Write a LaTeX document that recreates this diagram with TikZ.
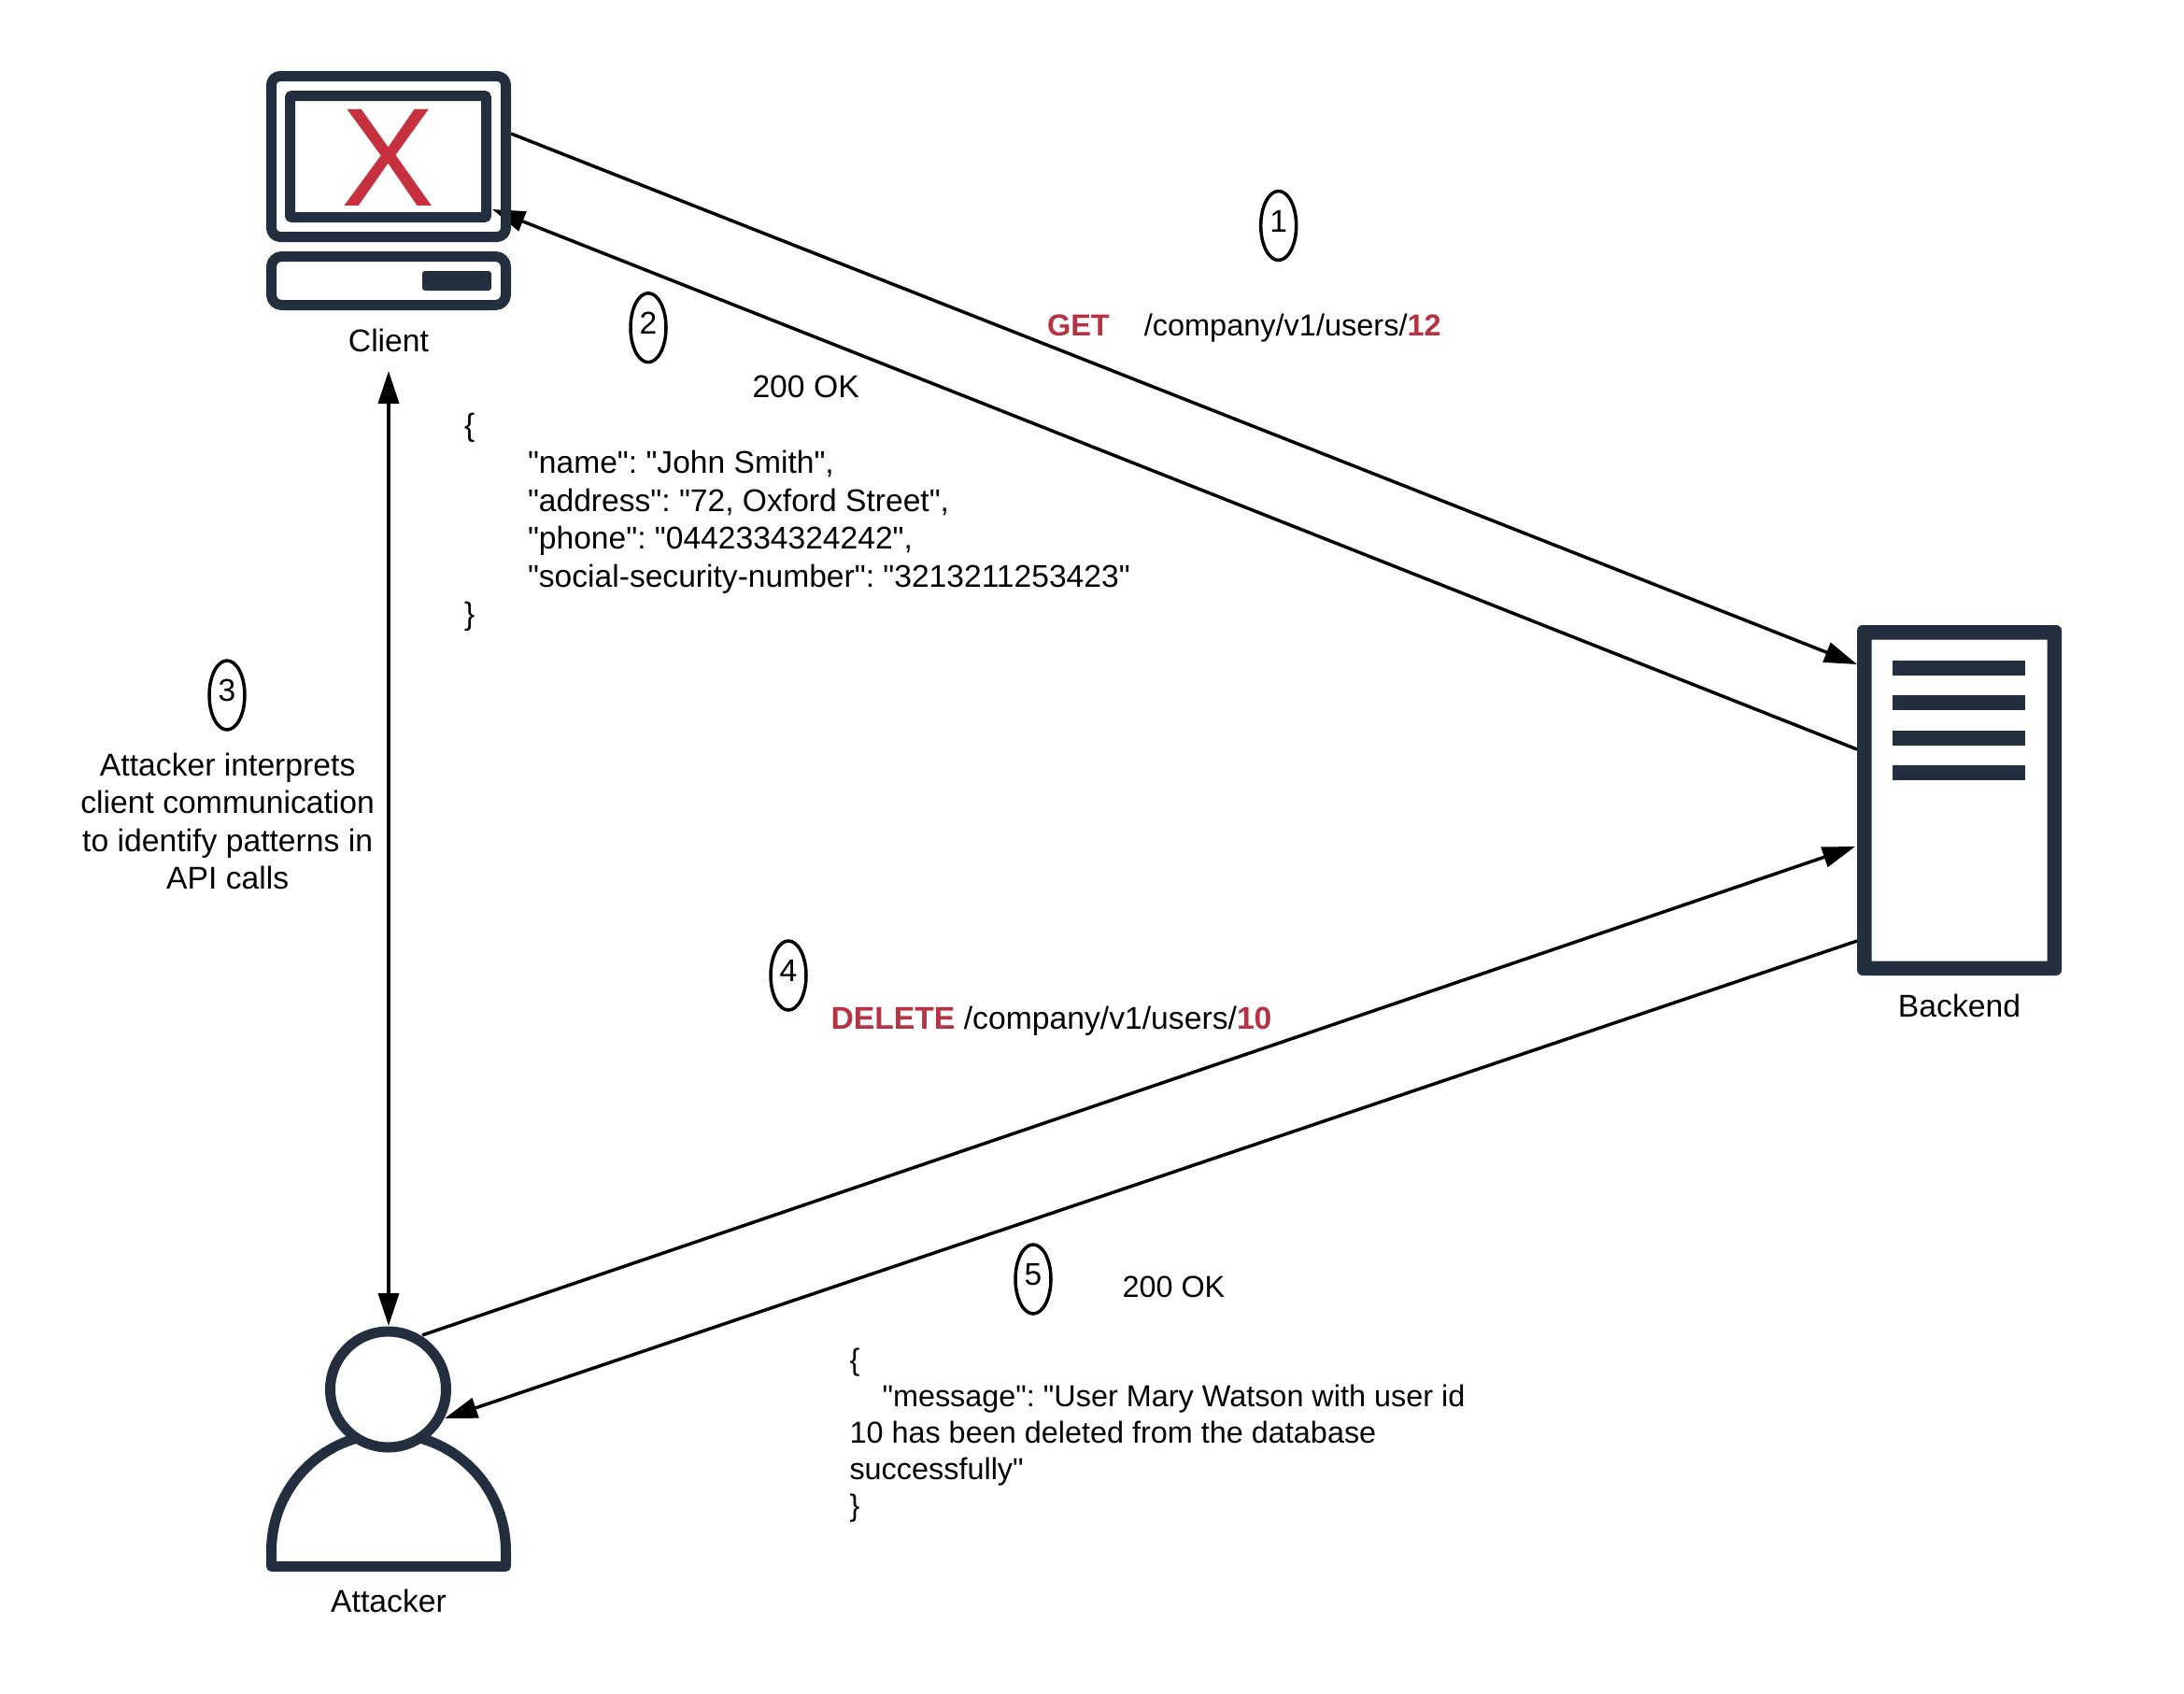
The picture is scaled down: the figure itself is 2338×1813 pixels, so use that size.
\documentclass[tikz,border=0pt]{standalone}
\usepackage{fontspec}
\setmainfont{Liberation Sans}[Ligatures=TeXOff]
\usetikzlibrary{arrows.meta,shapes.geometric}
\definecolor{navy}{HTML}{232F3E}
\definecolor{xred}{HTML}{C7313F}
\definecolor{txtred}{HTML}{B73343}
\frenchspacing
\tikzset{
  icon/.style={draw=none,rectangle,inner sep=0pt,outer sep=0pt},
  frame/.style={draw=navy,line join=round},
  link/.style={draw=black,line width=3.5pt},
  arr/.style={link,-{Triangle[length=35pt,width=22pt]}},
  num/.style={draw=black,line width=3.5pt,ellipse,inner sep=0pt,outer sep=0pt,minimum width=38pt,minimum height=74pt,
    text height=23pt,text depth=10pt,font=\fontsize{33.6}{40}\selectfont},
  lbl/.style={inner sep=0pt,outer sep=0pt,font=\fontsize{33.7}{40.5}\selectfont},
  msg/.style={inner sep=0pt,outer sep=0pt,font=\fontsize{32.4}{39}\selectfont},
}
\begin{document}
\begin{tikzpicture}[x=1pt,y=-1pt]
\path[use as bounding box,fill=white] (0,0) rectangle (2338,1813);
% icon placeholders
\node[icon,minimum width=262pt,minimum height=256pt] (client) at (416,204) {};
\node[icon,minimum width=219pt,minimum height=375pt] (backend) at (2097.5,856.5) {};
\node[icon,minimum width=262pt,minimum height=263pt] (attacker) at (416,1550.5) {};
% connectors
\draw[arr] ([yshift=61pt]client.east) -- ([yshift=145.5pt]backend.west);
\draw[arr] ([yshift=54.5pt]backend.west) -- ([shift={(-20pt,-20pt)}]client.east);
\draw[link,{Triangle[length=35pt,width=22pt]}-{Triangle[length=35pt,width=22pt]}] ([yshift=-65pt]client.south) -- (attacker.north);
\draw[arr] ([shift={(36pt,-10pt)}]attacker.north) -- ([shift={(-2pt,-49.5pt)}]backend.west);
\draw[arr] ([yshift=-150.5pt]backend.west) -- ([shift={(60pt,-99pt)}]attacker.north);
% client icon
\draw[frame,line width=11pt,rounded corners=9.5pt] (290.5,81.5) rectangle (541.5,253.5);
\draw[frame,line width=11pt,rounded corners=1pt] (310.5,102.5) rectangle (520.5,232.5);
\draw[frame,line width=11pt,rounded corners=11pt] (290.5,274.5) rectangle (541.5,326.5);
\fill[navy,rounded corners=3pt] (452,290) rectangle (526,311);
\node[lbl,anchor=base,text=xred,font=\fontsize{150}{150}\selectfont] (xmark) at (415.8,220.5) {X};
% backend icon
\fill[navy,even odd rule] [rounded corners=6pt] (1988,669) rectangle (2207,1044) [sharp corners] (2003.5,684.5) rectangle (2191.5,1028.5);
\fill[navy] (2026,707) rectangle (2168,723);
\fill[navy] (2026,744) rectangle (2168,760);
\fill[navy] (2026,782) rectangle (2168,798);
\fill[navy] (2026,819) rectangle (2168,835);
% attacker icon
\draw[frame,line width=11pt] (290.5,1676.5) -- (290.5,1660) arc[start angle=180,end angle=0,x radius=125.5pt,y radius=125.5pt] -- (541.5,1676.5) -- cycle;
\draw[frame,line width=11pt,fill=white] (415.5,1487) circle[radius=62pt];
% labels
\node[lbl,anchor=base] (clientlabel) at (416,376) {Client};
\node[lbl,anchor=base] (backendlabel) at (2097.5,1088) {Backend};
\node[lbl,anchor=base] (attackerlabel) at (416,1725.7) {Attacker};
% step markers
\node[num] (n1) at (1368.7,241.5) {1};
\node[num] (n2) at (694,350.7) {2};
\node[num] (n3) at (243,744) {3};
\node[num] (n4) at (844,1044) {4};
\node[num] (n5) at (1106,1369) {5};
% texts
\node[lbl,anchor=base west,font=\fontsize{32.5}{40.5}\selectfont] (get) at (1121,359) {\textcolor{txtred}{\bfseries GET}\hspace{37pt}/company/v1/users/\textcolor{txtred}{\bfseries 12}};
\node[lbl,anchor=base west] (ok1) at (805.5,425) {200 OK};
\node[lbl,anchor=base west,align=left,font=\fontsize{33.6}{40.5}\selectfont] (json1) at (497,668.5) {\{\\\hspace*{68pt}"name": "John Smith",\\\hspace*{68pt}"address": "72, Oxford Street",\\\hspace*{68pt}"phone": "0442334324242",\\\hspace*{68pt}"social-security-number": "3213211253423"\\\}};
\node[lbl,anchor=base,align=center] (note) at (243.7,951.5) {Attacker interprets\\client communication\\to identify patterns in\\API calls};
\node[lbl,anchor=base west] (del) at (889.5,1101) {\textcolor{txtred}{\bfseries DELETE} /company/v1/users/\textcolor{txtred}{\bfseries 10}};
\node[msg,anchor=base west] (ok2) at (1201.5,1388) {200 OK};
\node[msg,anchor=base west,align=left] (json2) at (909.5,1622) {\{\\\hspace*{35pt}"message": "User Mary Watson with user id\\10 has been deleted from the database\\successfully"\\\}};
\end{tikzpicture}
\end{document}
